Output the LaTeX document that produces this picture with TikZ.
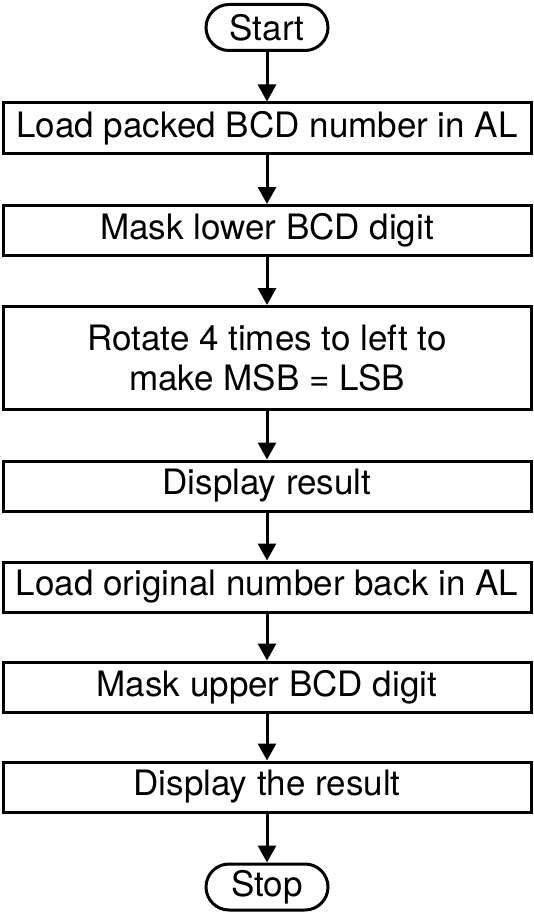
\documentclass[tikz,border=0pt]{standalone}
\usepackage{fontspec}
\setmainfont{TeX Gyre Heros}
\usetikzlibrary{arrows.meta,shapes.misc}
\begin{document}
\begin{tikzpicture}[x=1pt,y=1pt,line width=3pt,
    >={Triangle[length=17pt,width=18pt]},
    term/.style={rounded rectangle,draw,line width=3pt,minimum width=122pt,minimum height=46pt,inner sep=0pt,font=\fontsize{35}{40}\selectfont},
    proc/.style={rectangle,draw,line width=3pt,minimum width=528pt,minimum height=50pt,inner sep=0pt,align=center,font=\fontsize{35}{40}\selectfont}]
  \useasboundingbox (0,0) rectangle (534,-915);
  \node[term] (start) at (267,-27.5) {Start};
  \node[proc] (1) at (267,-128) {Load packed BCD number in AL};
  \node[proc] (2) at (267,-230.5) {Mask lower BCD digit};
  \node[proc,minimum height=103pt] (3) at (267,-358) {Rotate 4 times to left to\\make MSB = LSB};
  \node[proc] (4) at (267,-486) {Display result};
  \node[proc] (5) at (267,-587) {Load original number back in AL};
  \node[proc] (6) at (267,-687) {Mask upper BCD digit};
  \node[proc] (7) at (267,-787) {Display the result};
  \node[term] (stop) at (267,-887) {Stop};
  \draw[->] (start) -- (1);
  \draw[->] (1) -- (2);
  \draw[->] (2) -- (3);
  \draw[->] (3) -- (4);
  \draw[->] (4) -- (5);
  \draw[->] (5) -- (6);
  \draw[->] (6) -- (7);
  \draw[->] (7) -- (stop);
\end{tikzpicture}
\end{document}
